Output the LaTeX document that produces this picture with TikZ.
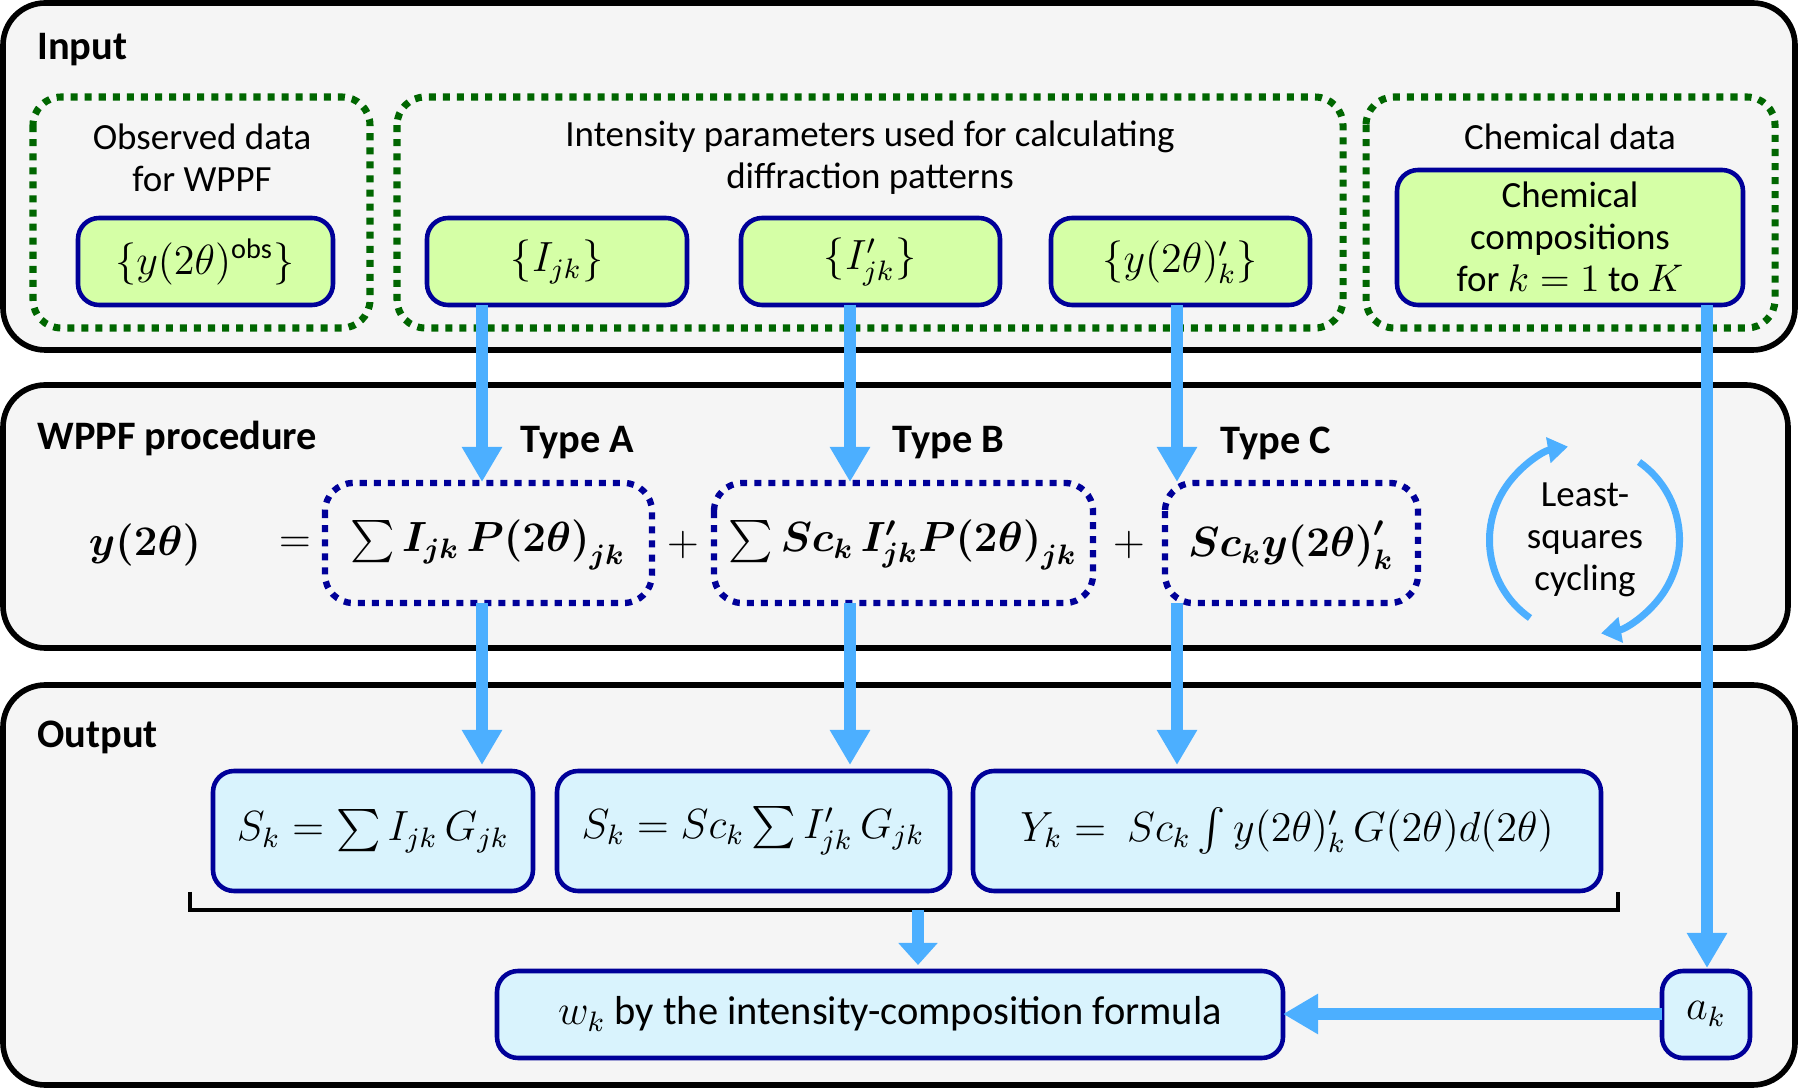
\documentclass[tikz,border=0pt]{standalone}
\usepackage{fontspec}
\setmainfont{Carlito}
\usepackage{amsmath,bm}
\usetikzlibrary{arrows.meta,decorations.pathreplacing}
\begin{document}
\begin{tikzpicture}[x=0.01cm,y=-0.01cm,
 panel/.style={draw=black,line width=1.6pt,rounded corners=12pt,fill=gray!8},
 gdot/.style={draw=green!40!black,line width=2pt,dash pattern=on 2pt off 2pt,rounded corners=8pt},
 bdot/.style={draw=blue!60!black,line width=1.8pt,dash pattern=on 2pt off 2pt,rounded corners=8pt},
 gbox/.style={draw=blue!60!black,line width=1.3pt,rounded corners=6pt,fill=green!30!lime!35},
 bbox/.style={draw=blue!60!black,line width=1.3pt,rounded corners=6pt,fill=cyan!15},
 barr/.style={draw=blue!45!cyan!70,line width=0.12cm,-{Triangle[width=0.38cm,length=0.35cm]}},
 carr/.style={draw=blue!45!cyan!70,line width=0.07cm,-{Triangle[width=0.25cm,length=0.2cm]}},
 ttl/.style={font=\fontsize{11.5}{12}\selectfont\bfseries,anchor=west},
 txt/.style={font=\fontsize{10.5}{12}\selectfont,align=center},
 fml/.style={font=\fontsize{12}{13}\selectfont},
 oml/.style={font=\fontsize{11.5}{12}\selectfont}]
\useasboundingbox (0,0) rectangle (1800,1089);
\path[panel] (3,3) rectangle (1795,350);
\path[panel] (3,385) rectangle (1788,648);
\path[panel] (3,685) rectangle (1795,1085);
\node[ttl] (ti) at (25,50) {Input};
\node[ttl] (tw) at (25,438) {WPPF procedure};
\node[ttl] (to) at (25,737) {Output};
% input dotted
\path[gdot] (33,97) rectangle (370,328);
\path[gdot] (397,97) rectangle (1343,328);
\path[gdot] (1366,97) rectangle (1775,328);
\node[txt] (t1) at (202,158) {Observed data\\for WPPF};
\node[txt] (t2) at (870,158) {Intensity parameters used for calculating\\diffraction patterns};
\node[txt] (t3) at (1570,137) {Chemical data};
\path[gbox] (78,218) rectangle (333,305); \node[txt,oml] (n1) at (205,262) {$\{y(2\theta)^{\mathrm{obs}}\}$};
\path[gbox] (427,218) rectangle (687,305); \node[txt,oml] (n2) at (557,262) {$\{I_{jk}\}$};
\path[gbox] (741,218) rectangle (1000,305); \node[txt,oml] (n3) at (870,262) {$\{I'_{jk}\}$};
\path[gbox] (1051,218) rectangle (1310,305); \node[txt,oml] (n4) at (1180,262) {$\{y(2\theta)'_k\}$};
\path[gbox] (1397,170) rectangle (1743,305); \node[txt] (n5) at (1570,237) {Chemical\\compositions\\for $k=1$ to $K$};
% arrows in
\coordinate (a1s) at (482,305); \coordinate (a1e) at (482,482);
\coordinate (a2s) at (850,305); \coordinate (a2e) at (850,482);
\coordinate (a3s) at (1177,305); \coordinate (a3e) at (1177,482);
\draw[barr] (a1s) -- (a1e);
\draw[barr] (a2s) -- (a2e);
\draw[barr] (a3s) -- (a3e);
\node[ttl] (ta) at (508,443) {Type A};
\node[ttl] (tb) at (880,443) {Type B};
\node[ttl] (tc) at (1208,443) {Type C};
% formula
\path[bdot] (325,483) rectangle (652,603);
\path[bdot] (714,483) rectangle (1093,603);
\path[bdot] (1165,483) rectangle (1418,603);
\node[txt,fml] (y) at (145,545) {$\bm{y(2\theta)}$};
\node[txt,fml] (eq) at (295,545) {$=$};
\node[txt,fml] (f1) at (488,545) {$\sum \bm{I_{jk}\,P(2\theta)_{jk}}$};
\node[txt,fml] (p1) at (683,545) {$+$};
\node[txt,fml] (f2) at (903,545) {$\sum \bm{Sc_k\,I'_{jk}P(2\theta)_{jk}}$};
\node[txt,fml] (p2) at (1129,545) {$+$};
\node[txt,fml] (f3) at (1291,545) {$\bm{Sc_k y(2\theta)'_k}$};
\node[txt] (ls) at (1585,540) {Least-\\squares\\cycling};
\coordinate (l1) at (1530,618); \coordinate (l2) at (1639,462);
\draw[carr] (l1) arc (125:260:95);
\draw[carr] (l2) arc (-55:80:95);
% arrows down
\coordinate (b1s) at (482,603); \coordinate (b1e) at (482,765);
\coordinate (b2s) at (850,603); \coordinate (b2e) at (850,765);
\coordinate (b3s) at (1177,603); \coordinate (b3e) at (1177,765);
\draw[barr] (b1s) -- (b1e);
\draw[barr] (b2s) -- (b2e);
\draw[barr] (b3s) -- (b3e);
\coordinate (cs) at (1707,305); \coordinate (ce) at (1707,968);
\draw[barr] (cs) -- (ce);
% output boxes
\path[bbox] (213,771) rectangle (533,891); \node[txt,oml] (o1) at (373,831) {$S_k=\sum I_{jk}\,G_{jk}$};
\path[bbox] (557,771) rectangle (950,891); \node[txt,oml] (o2) at (753,831) {$S_k=Sc_k\sum I'_{jk}\,G_{jk}$};
\path[bbox] (973,771) rectangle (1601,891); \node[txt,oml] (o3) at (1287,831) {$Y_k=\ Sc_k\int y(2\theta)'_k\,G(2\theta)d(2\theta)$};
\draw[line width=1.4pt] (190,892) -- (190,910) -- (1618,910) -- (1618,892);
\coordinate (ds) at (918,910); \coordinate (de) at (918,965);
\draw[barr,-{Triangle[width=0.38cm,length=0.22cm]}] (ds) -- (de);
\path[bbox] (497,971) rectangle (1283,1058); \node[txt,oml] (w) at (890,1014) {$w_k$ by the intensity-composition formula};
\path[bbox] (1662,971) rectangle (1750,1058); \node[txt,oml] (ak) at (1706,1014) {$a_k$};
\coordinate (es) at (1662,1014); \coordinate (ee) at (1283,1014);
\draw[barr] (es) -- (ee);
\end{tikzpicture}
\end{document}
